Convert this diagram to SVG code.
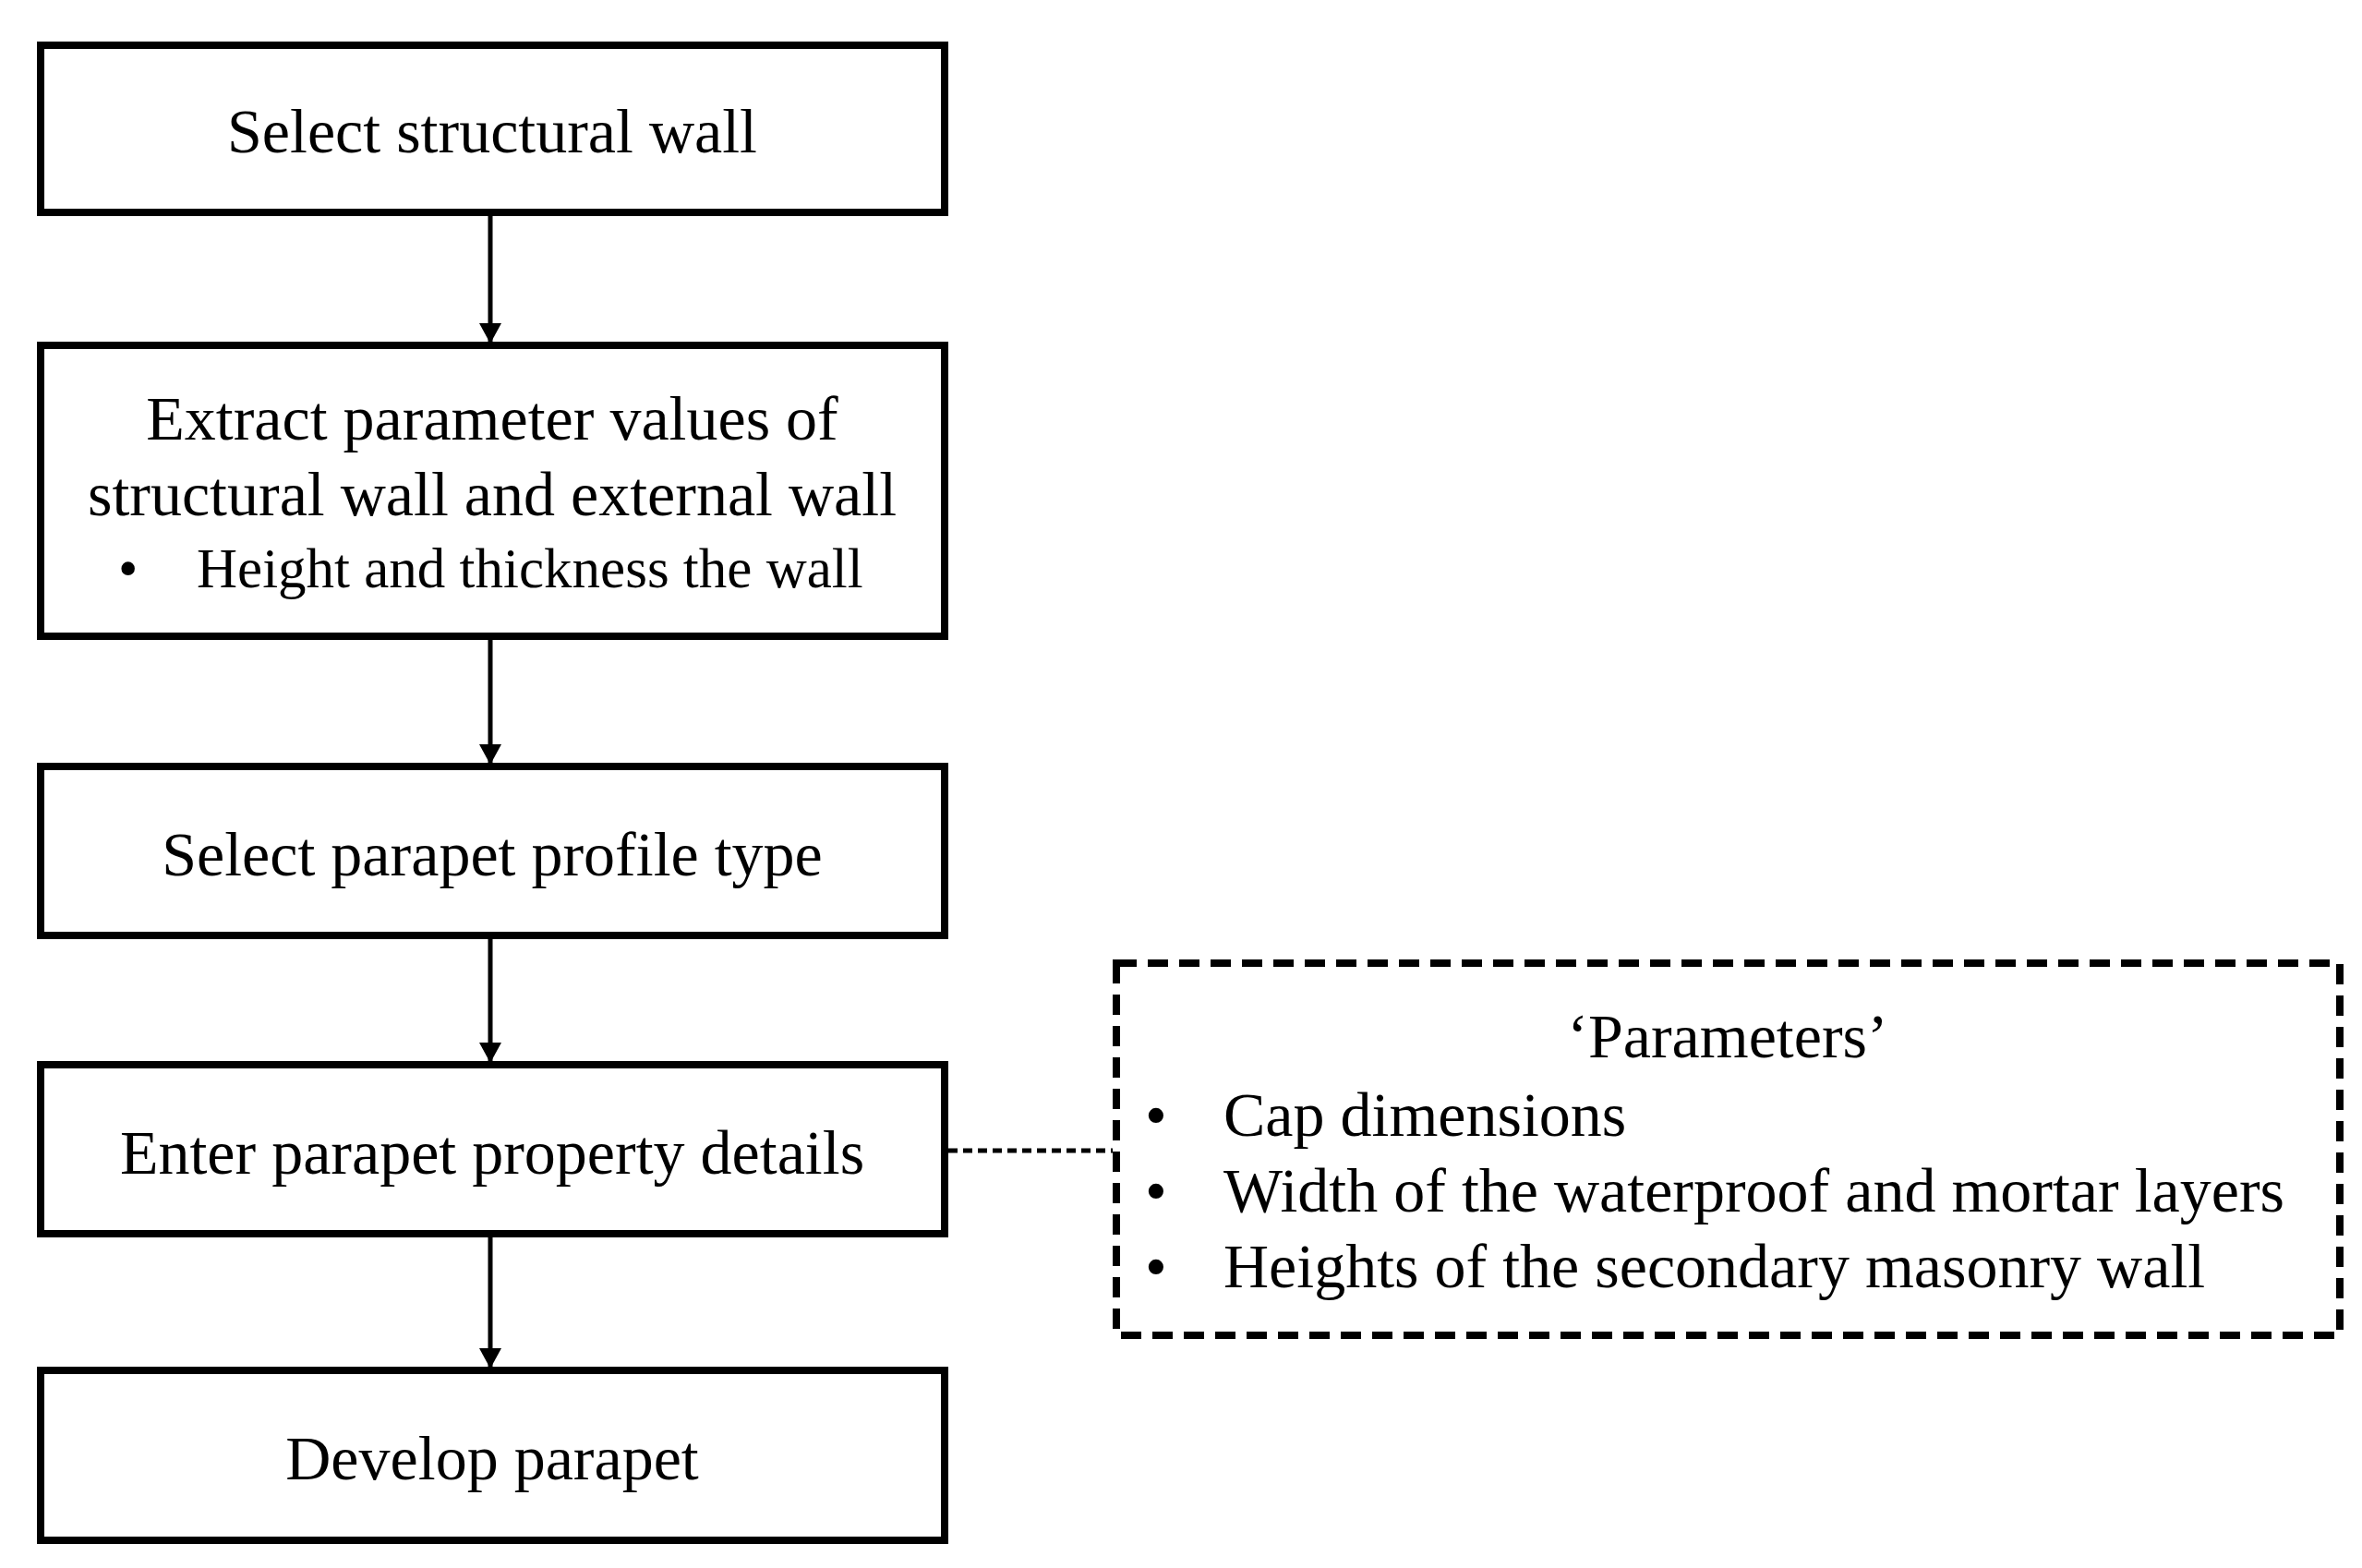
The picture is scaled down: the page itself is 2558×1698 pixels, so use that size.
<svg xmlns="http://www.w3.org/2000/svg" width="2558" height="1698" viewBox="0 0 2558 1698">
<style>
.b{fill:#fff;stroke:#000;stroke-width:8}
.d{fill:#fff;stroke:#000;stroke-width:8;stroke-dasharray:22 12}
text{font-family:"Liberation Serif","Times New Roman",serif;font-size:68px;fill:#000}
.c{text-anchor:middle}
.s{font-size:61px}
.l{stroke:#000;stroke-width:5;fill:none}
</style>
<defs><marker id="a" markerWidth="22" markerHeight="24" refX="20" refY="12" orient="auto" markerUnits="userSpaceOnUse" viewBox="0 0 22 24"><path d="M0,0 L22,12 L0,24z" fill="#000"/></marker></defs>
<rect width="2558" height="1698" fill="#fff"/>
<g id="connectors">
<line class="l" x1="531" y1="234" x2="531" y2="370" marker-end="url(#a)"/>
<line class="l" x1="531" y1="693" x2="531" y2="826" marker-end="url(#a)"/>
<line class="l" x1="531" y1="1017" x2="531" y2="1149" marker-end="url(#a)"/>
<line class="l" x1="531" y1="1340" x2="531" y2="1480" marker-end="url(#a)"/>
<line class="l" x1="1027" y1="1246" x2="1205" y2="1246" stroke-dasharray="10 6"/>
</g>
<g id="n1"><rect class="b" x="44" y="49" width="979" height="181"/><text class="c" x="533" y="165">Select structural wall</text></g>
<g id="n2"><rect class="b" x="44" y="374" width="979" height="315"/>
<text class="c" x="533" y="476">Extract parameter values of</text>
<text class="c" x="533" y="558">structural wall and external wall</text>
<text class="s" x="128" y="636">•</text><text class="s" x="213" y="636">Height and thickness the wall</text></g>
<g id="n3"><rect class="b" x="44" y="830" width="979" height="183"/><text class="c" x="533" y="948">Select parapet profile type</text></g>
<g id="n4"><rect class="b" x="44" y="1153" width="979" height="183"/><text class="c" x="533" y="1271">Enter parapet property details</text></g>
<g id="n5"><rect class="b" x="44" y="1484" width="979" height="184"/><text class="c" x="533" y="1602">Develop parapet</text></g>
<g id="params"><rect class="d" x="1209" y="1043" width="1325" height="403"/>
<text class="c" x="1871" y="1145">‘Parameters’</text>
<text x="1240" y="1230">•</text><text x="1325" y="1230">Cap dimensions</text>
<text x="1240" y="1312">•</text><text x="1325" y="1312">Width of the waterproof and mortar layers</text>
<text x="1240" y="1394">•</text><text x="1325" y="1394">Heights of the secondary masonry wall</text></g>
</svg>
